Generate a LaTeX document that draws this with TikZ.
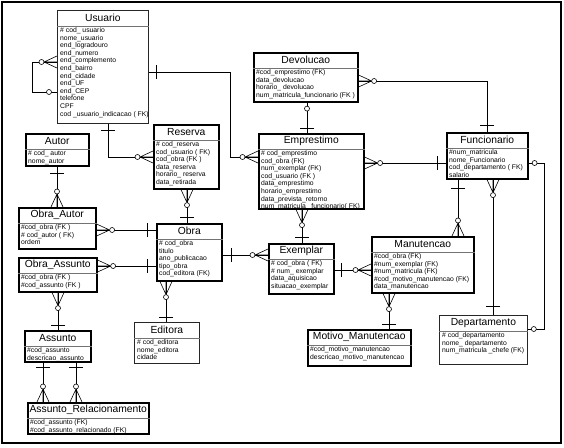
\documentclass[tikz,border=0pt]{standalone}
\usepackage{fontspec}
\setmainfont{Liberation Sans}
\usetikzlibrary{decorations.markings}
\tikzset{
  entbox/.style={draw,line width=1.6pt,anchor=north west,inner sep=0pt},
  thinbox/.style={entbox,line width=.8pt,draw=black!85},
  enttitle/.style={anchor=north,inner sep=0pt,minimum height=15.5,font=\fontsize{10.3}{12}\selectfont},
  entattr/.style={anchor=north west,align=left,inner xsep=3,inner ysep=1.5,font=\fontsize{6.8}{7.6}\selectfont},
  sepline/.style={draw=black!55,line width=.8pt},
  conn/.style={line width=.6pt},
  onestart/.style={postaction={decorate,decoration={markings,mark=at position #1 with {\draw (0,-7) -- (0,7);}}}},
  onestart/.default=7pt,
  oneend/.style={postaction={decorate,decoration={markings,mark=at position -#1 with {\draw (0,-7) -- (0,7);}}}},
  oneend/.default=7pt,
  zostart/.style={postaction={decorate,decoration={markings,mark=at position #1 with {\draw[fill=white] (0,0) circle (2.5pt);}}}},
  zostart/.default=6pt,
  zoend/.style={postaction={decorate,decoration={markings,mark=at position -#1 with {\draw[fill=white] (0,0) circle (2.5pt);}}}},
  zoend/.default=6pt,
  zmstart/.style={postaction={decorate,decoration={markings,mark=at position 13pt with {\draw (0,0) -- (-13,6) (0,0) -- (-13,0) (0,0) -- (-13,-6); \draw[fill=white] (2.5,0) circle (2.5pt);}}}},
  zmend/.style={postaction={decorate,decoration={markings,mark=at position -13pt with {\draw (0,0) -- (13,6) (0,0) -- (13,0) (0,0) -- (13,-6); \draw[fill=white] (-2.5,0) circle (2.5pt);}}}}
}
% name, north-west corner, width, height, title, attributes
\newcommand{\entity}[7][entbox]{%
  \node[#1,minimum width=#4,minimum height=#5] (#2) at (#3) {};
  \node[enttitle] (#2t) at (#2.north) {#6};
  \draw[sepline] (#2t.south -| #2.west) -- (#2t.south -| #2.east);
  \node[entattr] (#2a) at (#2t.south -| #2.west) {#7};
}

\begin{document}
\begin{tikzpicture}[x=1pt,y=-1pt]
\useasboundingbox (0,0) rectangle (564,447);
\draw[line width=2pt] (2,2) rectangle (561,443);
% entities
\entity[thinbox]{usuario}{57,10}{91}{113}{Usuario}{\# cod\_ usuario\\nome\_usuario\\end\_logradouro\\end\_numero\\end\_complemento\\end\_bairro\\end\_cidade\\end\_UF\\end\_CEP\\telefone\\CPF\\cod \_usuario\_indicacao ( FK)}
\entity{devolucao}{253,52}{104}{49}{Devolucao}{\#cod\_emprestimo (FK)\\data\_devolucao\\horario\_ devolucao\\num\_matricula\_funcionario (FK )}
\entity{reserva}{153,124}{65}{64}{Reserva}{\# cod\_reserva\\cod\_usuario ( FK)\\cod\_obra (FK )\\data\_reserva\\horario\_ reserva\\data\_retirada}
\entity{emprestimo}{258,133}{105}{75}{Emprestimo}{\# cod\_emprestimo\\cod\_obra (FK)\\num\_exemplar (FK)\\cod\_usuario (FK )\\data\_emprestimo\\horario\_emprestimo\\data\_prevista\_retorno\\num\_matricula\_ funcionario( FK)}
\entity{funcionario}{446,132}{81}{46}{Funcionario}{\#num\_matricula\\nome\_Funcionario\\cod\_departamento ( FK)\\salario}
\entity{autor}{25,133}{63}{32}{Autor}{\# cod\_ autor\\nome\_autor}
\entity{obraautor}{18,207}{77}{41}{Obra\_Autor}{\#cod\_obra (FK )\\\# cod\_autor ( FK)\\ordem}
\entity{obraassunto}{18,257}{78}{34}{Obra\_Assunto}{\#cod\_obra (FK )\\\#cod\_assunto (FK )}
\entity{obra}{156,223}{65}{57}{Obra}{\# cod\_obra\\titulo\\ano\_publicacao\\tipo\_obra\\cod\_editora (FK)}
\entity{exemplar}{268,243}{65}{50}{Exemplar}{\# cod\_obra ( FK)\\\# num\_ exemplar\\data\_aquisicao\\situacao\_exemplar}
\entity{manutencao}{371,236}{102}{56}{Manutencao}{\#cod\_obra (FK)\\\#num\_exemplar (FK)\\\#num\_matricula (FK)\\\#cod\_motivo\_manutencao (FK)\\data\_manutencao}
\entity{assunto}{24,330}{66}{31}{Assunto}{\#cod\_assunto\\descricao\_assunto}
\entity[thinbox]{editora}{134,322}{65}{41}{Editora}{\# cod\_editora\\nome\_editora\\cidade}
\entity{motivo}{307,329}{103}{36}{Motivo\_Manutencao}{\#cod\_motivo\_manutencao\\descricao\_motivo\_manutencao}
\entity[thinbox]{departamento}{439,315}{88}{49}{Departamento}{\# cod\_departamento\\nome\_ departamento\\num\_matricula \_chefe (FK)}
\entity{assuntorel}{27,402}{121}{31}{Assunto\_Relacionamento}{\#cod\_assunto (FK)\\\#cod\_assunto\_relacionado (FK)}
% relationships
\draw[conn,zmstart,zoend=8pt] (usuario.west |- 0,62) -- (32,62) |- (usuario.west |- 0,92);
\draw[conn,onestart=6pt,zmend] (usuario.south -| 108,0) |- (reserva.west |- 0,157);
\draw[conn,onestart,zmend] (usuario.east |- 0,72) -- (230,72) |- (emprestimo.west |- 0,157);
\draw[conn,zostart,oneend=5pt] (devolucao.south -| 307,0) -- (emprestimo.north -| 307,0);
\draw[conn,zmstart,oneend] (devolucao.east |- 0,81) -| (funcionario.north -| 487,0);
\draw[conn,zmstart,oneend=9pt] (emprestimo.east |- 0,163) -- (funcionario.west |- 0,163);
\draw[conn,zmstart,oneend=6pt] (emprestimo.south -| 302,0) -- (exemplar.north -| 302,0);
\draw[conn,onestart=9pt,zmend] (funcionario.south -| 458,0) -- (manutencao.north -| 458,0);
\draw[conn,zmstart,oneend=9pt] (funcionario.south -| 493,0) -- (departamento.north -| 493,0);
\draw[conn,zostart,zoend] (funcionario.east |- 0,163) -- (544,163) |- (departamento.east |- 0,329);
\draw[conn,zmstart,oneend=6pt] (reserva.south -| 187,0) -- (obra.north -| 187,0);
\draw[conn,onestart,zmend] (autor.south -| 57,0) -- (obraautor.north -| 57,0);
\draw[conn,zmstart,oneend=9pt] (obraautor.east |- 0,230) -- (obra.west |- 0,230);
\draw[conn,zmstart,oneend=9pt] (obraassunto.east |- 0,266) -- (obra.west |- 0,266);
\draw[conn,onestart=9pt,zmend] (obra.east |- 0,255) -- (exemplar.west |- 0,255);
\draw[conn,zmstart,oneend=5pt] (obra.south -| 166,0) -- (editora.north -| 166,0);
\draw[conn,onestart,zmend] (exemplar.east |- 0,270) -- (manutencao.west |- 0,270);
\draw[conn,zmstart,oneend=5pt] (manutencao.south -| 389,0) -- (motivo.north -| 389,0);
\draw[conn,zmstart,oneend=5pt] (obraassunto.south -| 58,0) -- (assunto.north -| 58,0);
\draw[conn,onestart=5pt,zmend] (assunto.south -| 43,0) -- (assuntorel.north -| 43,0);
\draw[conn,onestart=5pt,zmend] (assunto.south -| 76,0) -- (assuntorel.north -| 76,0);
\end{tikzpicture}
\end{document}
